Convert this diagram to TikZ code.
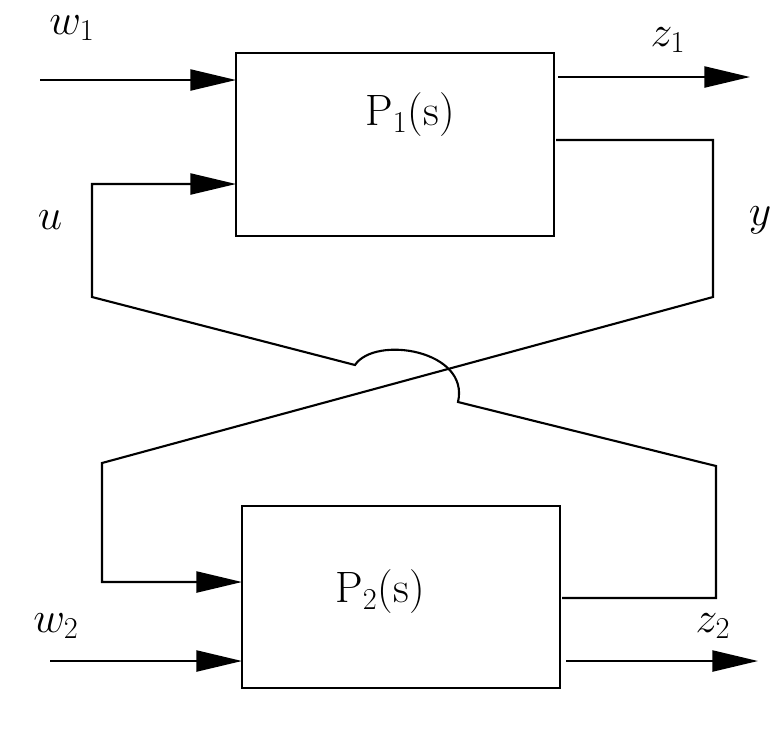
\documentclass[tikz,border=0pt]{standalone}
\usetikzlibrary{arrows.meta}
\begin{document}
\begin{tikzpicture}[x=0.02cm,y=-0.02cm,
  blk/.style={draw,line width=1.2pt},
  ln/.style={line width=1.2pt},
  arr/.style={ln,-{Triangle[length=26pt,width=12pt]}},
  lab/.style={font=\fontsize{25}{28}\selectfont}]
\useasboundingbox (0,0) rectangle (784,752);
\draw[blk] (236,53) rectangle (554,236);
\draw[blk] (242,506) rectangle (560,688);
\node[lab] (p1) at (410,115) {P$_1$(s)};
\node[lab] (p2) at (380,592) {P$_2$(s)};
\coordinate (w1s) at (40,80); \coordinate (w1e) at (236,80);
\coordinate (z1s) at (558,77); \coordinate (z1e) at (750,77);
\coordinate (w2s) at (50,661); \coordinate (w2e) at (242,661);
\coordinate (z2s) at (566,661); \coordinate (z2e) at (758,661);
\draw[arr] (w1s) -- (w1e);
\draw[arr] (z1s) -- (z1e);
\draw[arr] (w2s) -- (w2e);
\draw[arr] (z2s) -- (z2e);
\draw[arr] (562,598) -- (716,598) -- (716,466) -- (458,402)
  .. controls (470,350) and (375,335) .. (355,365) -- (92,297) -- (92,184) -- (236,184);
\draw[arr] (556,140) -- (713,140) -- (713,297) -- (102,463) -- (102,582) -- (242,582);
\node[lab] (lw1) at (72,28) {$w_1$};
\node[lab] (lz1) at (668,40) {$z_1$};
\node[lab] (lu) at (50,220) {$u$};
\node[lab] (ly) at (760,220) {$y$};
\node[lab] (lw2) at (56,626) {$w_2$};
\node[lab] (lz2) at (713,626) {$z_2$};
\end{tikzpicture}
\end{document}
